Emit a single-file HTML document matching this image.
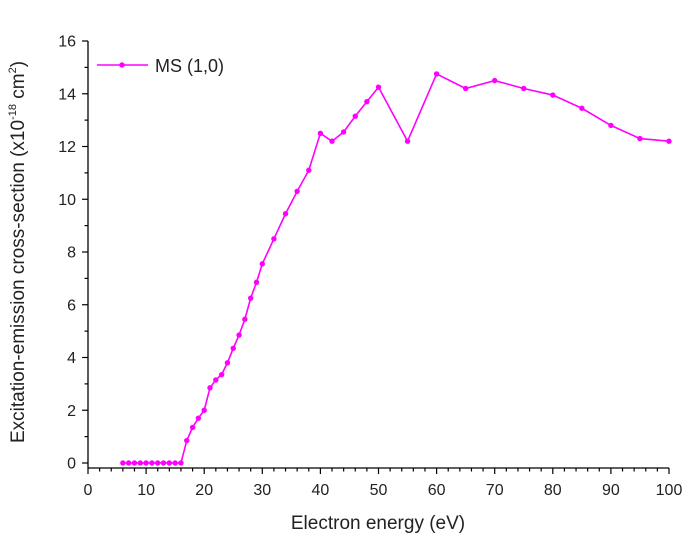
<!DOCTYPE html>
<html><head><meta charset="utf-8"><style>
body{margin:0;background:#fff;}
svg text{font-family:"Liberation Sans",Arial,sans-serif;fill:#222;}
</style></head><body>
<svg id="chart" width="685" height="538" viewBox="0 0 685 538" xmlns="http://www.w3.org/2000/svg">
<g id="axes"></g>
<g id="series"></g>
<g>
<line x1="97" y1="65" x2="148" y2="65" stroke="#ff00ff" stroke-width="1.6"/>
<circle cx="122" cy="65" r="2.7" fill="#ff00ff"/>
<text x="155" y="72" font-size="18">MS (1,0)</text>
</g>
<text x="378" y="529" font-size="19" text-anchor="middle">Electron energy (eV)</text>
<text transform="translate(24,252) rotate(-90)" font-size="19" text-anchor="middle">Excitation-emission cross-section (x10<tspan font-size="11" dy="-8">-18</tspan><tspan dy="8"> cm</tspan><tspan font-size="11" dy="-8">2</tspan><tspan dy="8">)</tspan></text>
</svg>
<script>
const xValues=[6,7,8,9,10,11,12,13,14,15,16,17,18,19,20,21,22,23,24,25,26,27,28,29,30,32,34,36,38,40,42,44,46,48,50,55,60,65,70,75,80,85,90,95,100];
const yValues=[0,0,0,0,0,0,0,0,0,0,0,0.85,1.35,1.7,2.0,2.85,3.15,3.35,3.8,4.35,4.85,5.45,6.25,6.85,7.55,8.5,9.45,10.3,11.1,12.5,12.2,12.55,13.15,13.7,14.25,12.2,14.75,14.2,14.5,14.2,13.95,13.45,12.8,12.3,12.2];
const xTickLabels=[0,10,20,30,40,50,60,70,80,90,100];
const yTickLabels=[0,2,4,6,8,10,12,14,16];
const NS="http://www.w3.org/2000/svg";
const X=v=>88+(v/100)*581;
const Y=v=>463-v*26.375;
const ax=document.getElementById('axes'), sr=document.getElementById('series');
function mk(t,a,p){const e=document.createElementNS(NS,t);for(const k in a)e.setAttribute(k,a[k]);p.appendChild(e);return e;}
let e=mk('line',{x1:88,y1:41,x2:88,y2:468,stroke:'#000','stroke-width':1.3},ax);


e=mk('line',{x1:88,y1:468,x2:669,y2:468,stroke:'#000','stroke-width':1.3},ax);


for(let v=0;v<=100;v+=2){const x=X(v);const major=v%10===0;
 e=mk('line',{x1:x,y1:468,x2:x,y2:major?474:471.5,stroke:'#000','stroke-width':1.2},ax);
 
 }
xTickLabels.forEach(v=>{e=mk('text',{x:X(v),y:495,'font-size':16,'text-anchor':'middle'},ax);e.textContent=v;
 
 });
for(let v=0;v<=16;v+=1){const y=Y(v);const major=v%2===0;
 e=mk('line',{x1:major?82:84.5,y1:y,x2:88,y2:y,stroke:'#000','stroke-width':1.2},ax);
 
 }
yTickLabels.forEach(v=>{e=mk('text',{x:76,y:Y(v)+5.5,'font-size':16,'text-anchor':'end'},ax);e.textContent=v;
 
 });
const pts=xValues.map((x,i)=>X(x)+','+Y(yValues[i])).join(' ');
e=mk('polyline',{points:pts,fill:'none',stroke:'#ff00ff','stroke-width':1.6},sr);


xValues.forEach((x,i)=>{e=mk('circle',{cx:X(x),cy:Y(yValues[i]),r:2.7,fill:'#ff00ff'},sr);
 
 });
</script>
</body></html>
